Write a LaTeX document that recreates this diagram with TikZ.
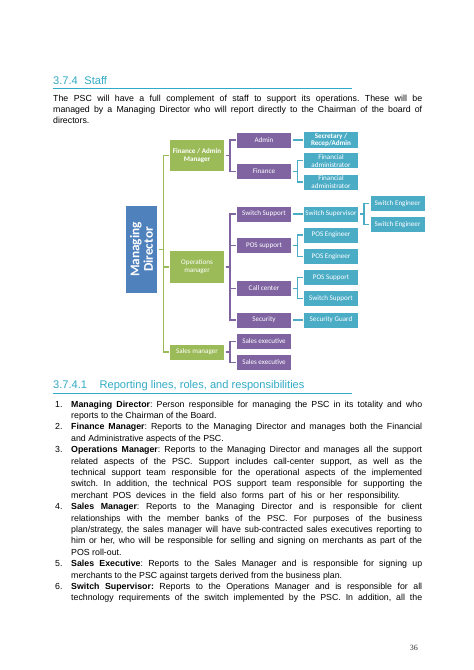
\documentclass[tikz,border=0pt]{standalone}
\usepackage{fontspec}
\setmainfont{Liberation Sans}
\newfontfamily\calfont{Carlito}
\newfontfamily\serfont{Liberation Serif}
\definecolor{mdblue}{RGB}{79,129,189}
\definecolor{mgreen}{RGB}{155,187,89}
\definecolor{mpurple}{RGB}{128,100,162}
\definecolor{mteal}{RGB}{75,172,198}
\definecolor{headteal}{RGB}{49,170,198}
\newcommand{\jl}[2]{\makebox[#1][s]{#2}}
\frenchspacing
\begin{document}
\frenchspacing
\begin{tikzpicture}[x=1pt,y=-1pt,
  box/.style={draw=none, inner sep=0, outer sep=1.5pt, text=white,
    font=\calfont\fontsize{7.1}{8}\selectfont, align=center,
    minimum width=54pt, minimum height=15pt},
  gbox/.style={box, fill=mgreen},
  pbox/.style={box, fill=mpurple},
  tbox/.style={box, fill=mteal},
  gline/.style={draw=mgreen, line width=1.1pt},
  pline/.style={draw=mpurple, line width=1.1pt},
  tline/.style={draw=mteal, line width=1.1pt},
  bodyline/.style={anchor=base west, inner sep=0, font=\frenchspacing\fontsize{8.8}{11.4}\selectfont},
  head/.style={anchor=base west, inner sep=0, text=headteal, font=\fontsize{11.1}{13}\selectfont},
  rule/.style={draw=headteal, line width=0.8pt}
]
\useasboundingbox (0,0) rectangle (474,670);
\fill[white] (0,0) rectangle (474,670);

% ---------- heading 1 ----------
\node[head] (h1) at (53,84) {3.7.4\hspace{6.5pt}Staff};
\coordinate (u1a) at (53,88);
\coordinate (u1b) at (352,88);
\draw[rule] (u1a) -- (u1b);

\node[bodyline] (p1) at (53,101) {\jl{369pt}{The PSC will have a full complement of staff to support its operations. These will be}};
\node[bodyline] (p2) at (53,112.4) {\jl{369pt}{managed by a Managing Director who will report directly to the Chairman of the board of}};
\node[bodyline] (p3) at (53,123.8) {directors.};

% ---------- chart ----------
\node[box, fill=mdblue, rotate=90, minimum width=87pt, minimum height=31pt,
  font=\calfont\bfseries\fontsize{13.3}{13.6}\selectfont] (md) at (141.5,249.5) {Managing\\Director};

\node[gbox, minimum height=31pt, font=\calfont\bfseries\fontsize{7.1}{7.6}\selectfont] (fam) at (197,155.5) {Finance / Admin\\Manager};
\node[gbox, minimum height=32.6pt] (om) at (197,267) {Operations\\manager};
\node[gbox] (sm) at (197,352) {Sales manager};

\node[pbox] (adm) at (264,140) {Admin};
\node[pbox] (fin) at (264,171.5) {Finance};
\node[pbox] (sws) at (264,214) {Switch Support};
\node[pbox] (poss) at (264,245.7) {POS support};
\node[pbox] (cc) at (264,288.5) {Call center};
\node[pbox] (secu) at (264,320) {Security};
\node[pbox] (se1) at (264,341.5) {Sales executive};
\node[pbox] (se2) at (264,362.5) {Sales executive};

\node[tbox, minimum height=16pt, font=\calfont\bfseries\fontsize{7.1}{7.4}\selectfont] (secr) at (331,140) {Secretary /\\Recep/Admin};
\node[tbox, font=\calfont\fontsize{7.1}{7.9}\selectfont] (fa1) at (331,160.7) {Financial\\administrator};
\node[tbox, font=\calfont\fontsize{7.1}{7.9}\selectfont] (fa2) at (331,182) {Financial\\administrator};
\node[tbox] (ssv) at (331,214) {Switch Supervisor};
\node[tbox] (pe1) at (331,235) {POS Engineer};
\node[tbox] (pe2) at (331,256.5) {POS Engineer};
\node[tbox] (ps) at (331,277.7) {POS Support};
\node[tbox] (ssp) at (331,298.7) {Switch Support};
\node[tbox] (sg) at (331,320) {Security Guard};

\node[tbox] (swe1) at (397.5,203.5) {Switch Engineer};
\node[tbox] (swe2) at (397.5,224.5) {Switch Engineer};

% green connectors
\draw[gline] (md.south) -- ++(4.8,0);
\draw[gline] (fam.west) -- ++(-5.2,0) |- (sm.west);
\draw[gline] (om.west) -- ++(-5.2,0);

% purple connectors
\draw[pline] (fam.east) -- ++(4.5,0);
\draw[pline] (adm.west) -- ++(-5.5,0) |- (fin.west);
\draw[pline] (om.east) -- ++(4.5,0);
\draw[pline] (sws.west) -- ++(-5.5,0) |- (secu.west);
\draw[pline] (poss.west) -- ++(-5.5,0);
\draw[pline] (cc.west) -- ++(-5.5,0);
\draw[pline] (sm.east) -- ++(4.5,0);
\draw[pline] (se1.west) -- ++(-5.5,0) |- (se2.west);

% teal connectors
\draw[tline] (adm.east) -- (secr.west);
\draw[tline] (fin.east) -- ++(5,0);
\draw[tline] (fa1.west) -- ++(-5,0) |- (fa2.west);
\draw[tline] (sws.east) -- (ssv.west);
\draw[tline] (poss.east) -- ++(5,0);
\draw[tline] (pe1.west) -- ++(-5,0) |- (pe2.west);
\draw[tline] (cc.east) -- ++(5,0);
\draw[tline] (ps.west) -- ++(-5,0) |- (ssp.west);
\draw[tline] (secu.east) -- (sg.west);
\draw[tline] (ssv.east) -- ++(5,0);
\draw[tline] (swe1.west) -- ++(-5,0) |- (swe2.west);

% ---------- heading 2 ----------
\node[head] (h2) at (53,388) {3.7.4.1\hspace{12.5pt}Reporting lines, roles, and responsibilities};
\coordinate (u2a) at (53,393);
\coordinate (u2b) at (352,393);
\draw[rule] (u2a) -- (u2b);

% ---------- list ----------
\node[bodyline] (n1) at (55,407) {1.};
\node[bodyline] (l1a) at (71,407) {\jl{351pt}{\textbf{Managing Director}: Person responsible for managing the PSC in its totality and who}};
\node[bodyline] (l1b) at (71,418.4) {reports to the Chairman of the Board.};

\node[bodyline] (n2) at (55,429.8) {2.};
\node[bodyline] (l2a) at (71,429.8) {\jl{351pt}{\textbf{Finance Manager}: Reports to the Managing Director and manages both the Financial}};
\node[bodyline] (l2b) at (71,441.2) {and Administrative aspects of the PSC.};

\node[bodyline] (n3) at (55,452.6) {3.};
\node[bodyline] (l3a) at (71,452.6) {\jl{351pt}{\textbf{Operations Manager}: Reports to the Managing Director and manages all the support}};
\node[bodyline] (l3b) at (71,464) {\jl{351pt}{related aspects of the PSC. Support includes call-center support, as well as the}};
\node[bodyline] (l3c) at (71,475.4) {\jl{351pt}{technical support team responsible for the operational aspects of the implemented}};
\node[bodyline] (l3d) at (71,486.8) {\jl{351pt}{switch. In addition, the technical POS support team responsible for supporting the}};
\node[bodyline] (l3e) at (71,498.2) {\jl{329pt}{merchant POS devices in the field also forms part of his or her responsibility.}};

\node[bodyline] (n4) at (55,509.6) {4.};
\node[bodyline] (l4a) at (71,509.6) {\jl{351pt}{\textbf{Sales Manager}: Reports to the Managing Director and is responsible for client}};
\node[bodyline] (l4b) at (71,521) {\jl{351pt}{relationships with the member banks of the PSC. For purposes of the business}};
\node[bodyline] (l4c) at (71,532.4) {\jl{351pt}{plan/strategy, the sales manager will have sub-contracted sales executives reporting to}};
\node[bodyline] (l4d) at (71,543.8) {\jl{351pt}{him or her, who will be responsible for selling and signing on merchants as part of the}};
\node[bodyline] (l4e) at (71,555.2) {POS roll-out.};

\node[bodyline] (n5) at (55,566.6) {5.};
\node[bodyline] (l5a) at (71,566.6) {\jl{351pt}{\textbf{Sales Executive}: Reports to the Sales Manager and is responsible for signing up}};
\node[bodyline] (l5b) at (71,578) {merchants to the PSC against targets derived from the business plan.};

\node[bodyline] (n6) at (55,589.4) {6.};
\node[bodyline] (l6a) at (71,589.4) {\jl{351pt}{\textbf{Switch Supervisor:} Reports to the Operations Manager and is responsible for all}};
\node[bodyline] (l6b) at (71,600.8) {\jl{351pt}{technology requirements of the switch implemented by the PSC. In addition, all the}};

% page number
\node[anchor=base east, inner sep=0, font=\serfont\fontsize{8}{9}\selectfont, text=black!80] (pg) at (418,650) {36};
\end{tikzpicture}
\end{document}
